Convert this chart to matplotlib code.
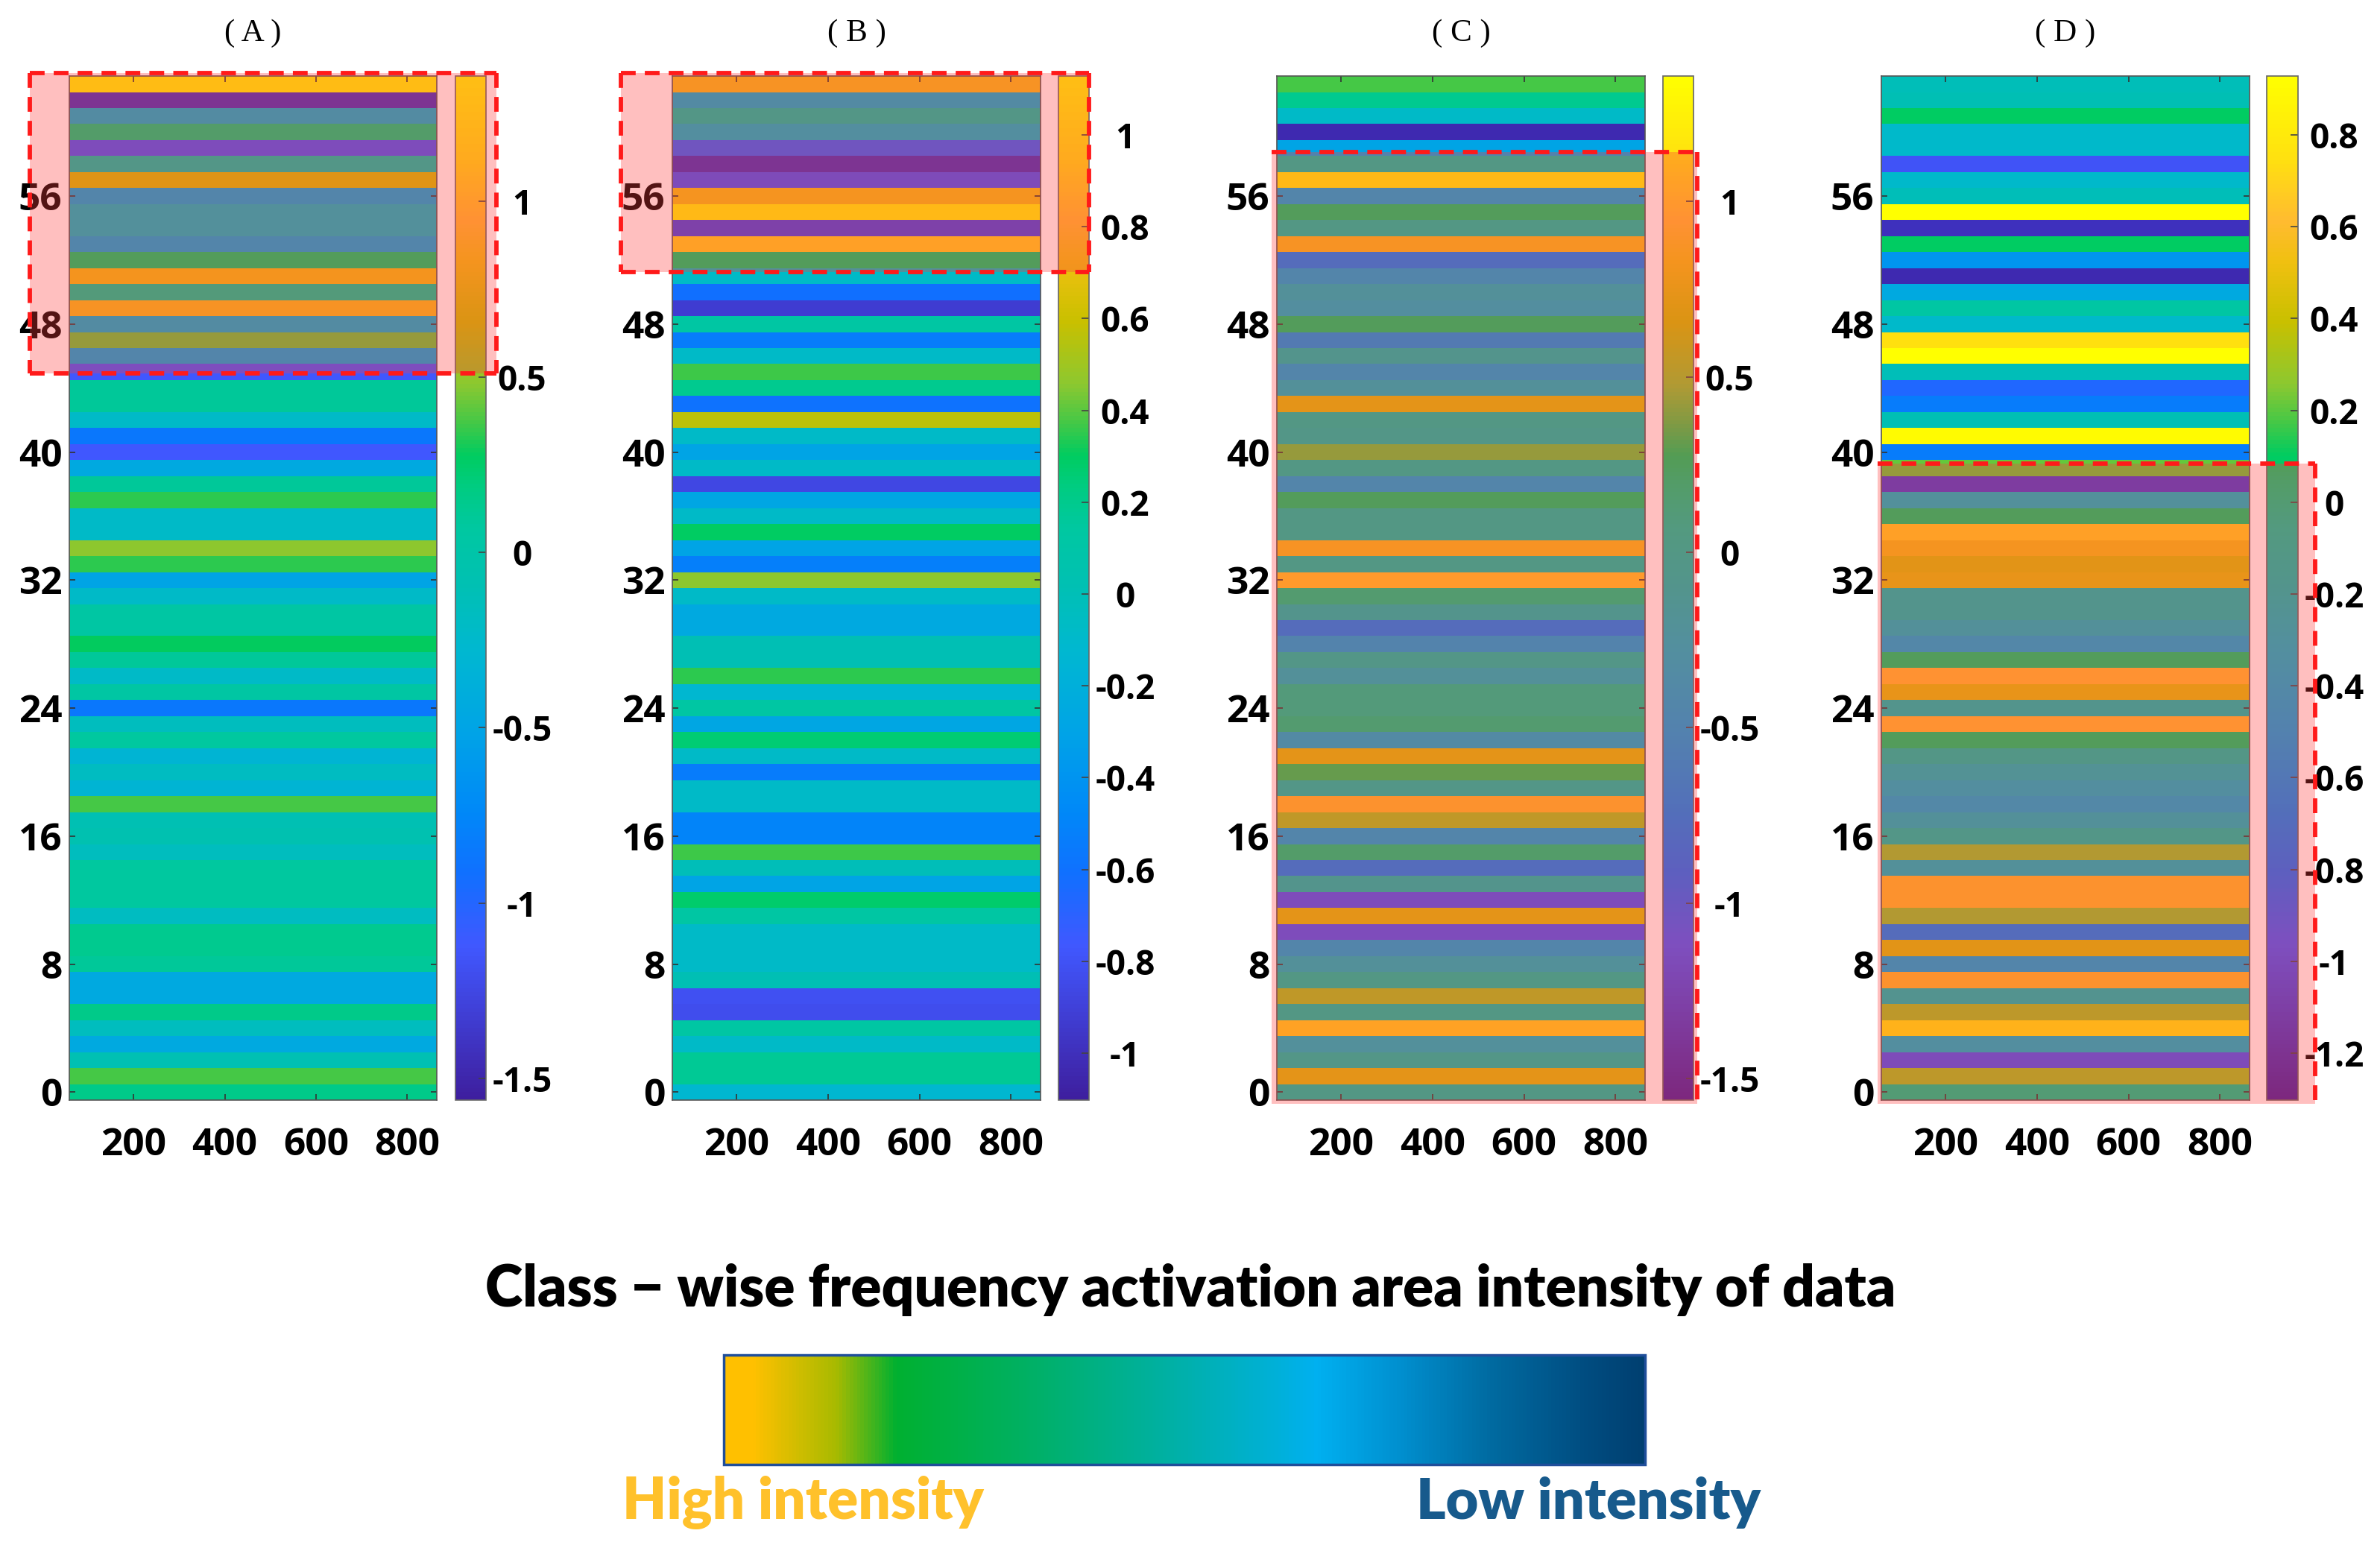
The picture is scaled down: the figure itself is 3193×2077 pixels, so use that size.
import numpy as np
import matplotlib
matplotlib.use('Agg')
import matplotlib.pyplot as plt
from matplotlib.colors import LinearSegmentedColormap, Normalize
from matplotlib.patches import Rectangle
from matplotlib.lines import Line2D
from matplotlib import cm, font_manager

W, H, DPI = 3193, 2077, 100

# ---- data (row 0 first, 64 rows per panel) ----
panel_titles = ['( A )', '( B )', '( C )', '( D )']
freq_range = (59, 865)
xticks = [200, 400, 600, 800]
yticks = [0, 8, 16, 24, 32, 40, 48, 56]

act_A = [0.16, 0.37, -0.10, -0.45, -0.16, 0.16, -0.45, -0.45, 0.10, 0.13,
         0.13, -0.19, 0.07, 0.07, 0.07, -0.16, -0.07, -0.10, 0.37, -0.31,
         -0.19, -0.31, 0.07, -0.16, -0.86, 0.04, -0.22, 0.10, 0.28, 0.04,
         0.04, -0.22, -0.51, 0.34, 0.48, -0.22, -0.22, 0.34, 0.10, -0.45,
         -1.12, -0.86, -0.22, 0.10, 0.10, -1.12, -0.45, 0.42, -0.34, 0.86,
         0.10, 0.83, 0.25, -0.45, -0.25, -0.25, -0.45, 0.69, -0.04, -1.15,
         0.19, -0.34, -1.42, 1.33]
act_B = [-0.12, 0.17, 0.17, -0.08, 0.12, -0.83, -0.81, 0.01, -0.08, -0.08,
         -0.08, 0.12, 0.28, -0.30, -0.01, 0.37, -0.50, -0.50, -0.08, -0.08,
         -0.54, -0.08, 0.26, -0.28, 0.12, -0.12, 0.35, 0.01, 0.01, -0.25,
         -0.25, -0.08, 0.46, -0.52, -0.30, 0.30, -0.08, -0.28, -0.86, -0.08,
         -0.30, -0.08, 0.57, -0.59, 0.19, 0.37, -0.08, -0.54, 0.12, -0.92,
         -0.61, -0.08, 0.28, 0.90, -0.88, 1.08, 0.73, -0.79, -0.99, -0.70,
         -0.12, 0.08, -0.17, 0.75]
act_C = [-0.01, 0.72, -0.04, -0.25, 1.07, -0.01, 0.54, -0.01, -0.22, -0.45,
         -1.15, 0.72, -1.15, -0.10, -0.77, 0.19, -0.45, 0.54, 0.92, -0.04,
         0.31, 0.72, -0.36, 0.16, 0.10, 0.10, -0.22, -0.04, -0.48, -0.77,
         -0.10, 0.16, 1.01, 0.01, 0.86, -0.01, -0.01, 0.25, -0.45, -0.01,
         0.42, -0.04, -0.01, 0.72, -0.22, -0.45, -0.10, -0.60, 0.25, -0.28,
         -0.22, -0.45, -0.77, 0.86, -0.01, 0.25, -0.45, 1.30, -0.01, -0.51,
         -1.47, -0.22, 0.13, 0.37]
act_D = [-0.01, 0.30, -0.99, -0.32, 0.82, 0.30, -0.21, 0.59, -0.45, 0.44,
         -0.70, 0.26, 0.59, 0.59, -0.28, 0.26, -0.14, -0.28, -0.41, -0.32,
         -0.25, -0.12, 0.08, 0.62, -0.19, 0.46, 0.62, 0.08, -0.43, -0.28,
         -0.19, -0.19, 0.46, 0.44, 0.53, 0.70, 0.08, -0.30, -1.12, 0.21,
         -0.74, 0.91, -0.19, -0.74, -0.86, -0.21, 0.92, 0.75, -0.30, -0.08,
         -0.45, -1.24, -0.59, 0.10, -1.19, 0.92, -0.21, -0.30, -0.99, -0.30,
         -0.30, 0.10, -0.19, -0.21]
activations = [act_A, act_B, act_C, act_D]

clims = [(-1.561, 1.357), (-1.102, 1.128), (-1.561, 1.357), (-1.302, 0.928)]
cbar_ticks = [[-1.5, -1, -0.5, 0, 0.5, 1],
              [-1, -0.8, -0.6, -0.4, -0.2, 0, 0.2, 0.4, 0.6, 0.8, 1],
              [-1.5, -1, -0.5, 0, 0.5, 1],
              [-1.2, -1, -0.8, -0.6, -0.4, -0.2, 0, 0.2, 0.4, 0.6, 0.8]]

legend_title = 'Class \u2212 wise frequency activation area intensity of data'
legend_high = 'High intensity'
legend_low = 'Low intensity'

# ---- colours ----
cmap = LinearSegmentedColormap.from_list('act', [
    (0.00, '#3E1F9E'), (0.10, '#4045E0'), (0.15, '#4058FF'), (0.22, '#1070FF'),
    (0.28, '#0088F8'), (0.36, '#00A4E6'), (0.44, '#00B8D0'), (0.50, '#00C0B4'),
    (0.56, '#00C8A0'), (0.60, '#00CC80'), (0.63, '#00CC60'), (0.66, '#40C848'),
    (0.70, '#8CC830'), (0.76, '#C8C000'), (0.82, '#F0C010'), (0.86, '#FFBB30'),
    (0.92, '#FFE010'), (1.00, '#FFFF00')])
grad_cmap = LinearSegmentedColormap.from_list('grad', [
    (0.0, '#FFC000'), (0.03, '#FFC000'), (0.12, '#A8BA00'), (0.186, '#00B030'),
    (0.32, '#00B060'), (0.474, '#00B0A0'), (0.60, '#00B0D8'), (0.644, '#00B0F0'),
    (0.732, '#0090D0'), (0.835, '#006AA0'), (0.938, '#004C80'), (1.0, '#003F70')])
overlay_color = (1.0, 0.24, 0.24)

available = {f.name for f in font_manager.fontManager.ttflist}
narrow = 'Liberation Sans Narrow' if 'Liberation Sans Narrow' in available else 'Lato'

plt.rcParams['font.family'] = ['Open Sans', 'DejaVu Sans']
plt.rcParams['font.weight'] = 'bold'


def fx(px):
    return px / W


def fy(py):
    return 1 - py / H


def fmt(v):
    return ('%g' % round(v, 1))


fig = plt.figure(figsize=(W / DPI, H / DPI), dpi=DPI)

heat_x = [(93, 586), (902, 1396), (1713, 2207), (2524, 3018)]
cbar_x = [(611, 652), (1420, 1461), (2231, 2272), (3041, 3083)]
top, bottom = 102, 1476

for i in range(4):
    x0, x1 = heat_x[i]
    ax = fig.add_axes([fx(x0), fy(bottom), fx(x1 - x0), (bottom - top) / H])
    vmin, vmax = clims[i]
    im = ax.imshow(np.array(activations[i])[:, None], cmap=cmap, vmin=vmin, vmax=vmax,
                   origin='lower', aspect='auto', interpolation='nearest',
                   extent=(freq_range[0], freq_range[1], -0.5, 63.5))
    ax.set_xlim(*freq_range)
    ax.set_ylim(-0.5, 63.5)
    ax.set_xticks(xticks)
    ax.set_yticks(yticks)
    ax.tick_params(direction='in', top=True, right=True, length=6, width=1.2,
                   color='#333333', labelsize=37, labelcolor='black')
    ax.tick_params(axis='x', pad=26)
    ax.tick_params(axis='y', pad=7)
    for sp in ax.spines.values():
        sp.set_color('#555555')
        sp.set_linewidth(1.2)

    c0, c1 = cbar_x[i]
    cax = fig.add_axes([fx(c0), fy(bottom), fx(c1 - c0), (bottom - top) / H])
    cb = fig.colorbar(im, cax=cax)
    cb.set_ticks(cbar_ticks[i])
    cb.set_ticklabels([fmt(t) for t in cbar_ticks[i]])
    cb.outline.set_edgecolor('#666666')
    cb.outline.set_linewidth(1.2)
    cax.tick_params(direction='in', length=7, width=1.2, color='#444444',
                    labelsize=33, labelcolor='black', pad=35)
    for lab in cax.get_yticklabels():
        lab.set_ha('center')

    fig.text(fx((x0 + x1) / 2), fy(45), panel_titles[i], ha='center', va='center',
             family=['Liberation Serif', 'DejaVu Serif'], fontweight='normal', fontsize=31)

# ---- highlighted regions ----
boxes = [((40, 98, 666, 501), 'all'),
         ((833, 98, 1461, 365), 'all'),
         ((1706, 204, 2277, 1481), 'tr'),
         ((2519, 622, 3106, 1481), 'tr')]
for (l, t, r, b), sides in boxes:
    fig.add_artist(Rectangle((fx(l), fy(b)), fx(r - l), (b - t) / H,
                             transform=fig.transFigure, facecolor=overlay_color, alpha=0.33,
                             edgecolor='none', zorder=5))
    segs = [((l, t), (r, t)), ((r, t), (r, b))]
    if sides == 'all':
        segs += [((l, b), (r, b)), ((l, t), (l, b))]
    for (xa, ya), (xb, yb) in segs:
        fig.add_artist(Line2D([fx(xa), fx(xb)], [fy(ya), fy(yb)], transform=fig.transFigure,
                              color='#FF1A1A', lw=4.2, linestyle=(0, (3.4, 2.1)), zorder=6))

# ---- bottom legend ----
t_title = fig.text(fx(1597), fy(1731), legend_title, ha='center', va='center',
                   family=[narrow, 'DejaVu Sans'], fontweight='heavy', fontsize=60, color='black')
t_high = fig.text(fx(1077), fy(2016), legend_high, ha='center', va='center',
                  family=[narrow, 'DejaVu Sans'], fontweight='heavy', fontsize=50, color='#FFC12B')
t_low = fig.text(fx(2131), fy(2016), legend_low, ha='center', va='center',
                 family=[narrow, 'DejaVu Sans'], fontweight='heavy', fontsize=50, color='#175A8C')

gax = fig.add_axes([fx(971), fy(1965), fx(2207 - 971), (1965 - 1818) / H])
gcb = fig.colorbar(cm.ScalarMappable(norm=Normalize(0, 1), cmap=grad_cmap), cax=gax,
                   orientation='horizontal')
gcb.set_ticks([])
gcb.outline.set_edgecolor('#1F4E9A')
gcb.outline.set_linewidth(2.5)

renderer = fig.canvas.get_renderer()
for txt, target in [(t_title, 1897), (t_high, 485), (t_low, 462)]:
    w = txt.get_window_extent(renderer).width
    txt.set_fontsize(txt.get_fontsize() * target / w)

fig.savefig('out.png', dpi=DPI)
